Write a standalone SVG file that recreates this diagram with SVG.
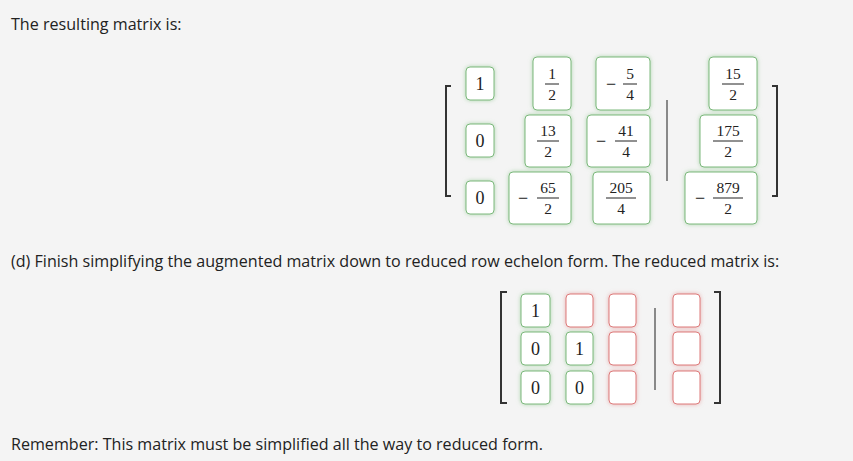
<svg xmlns="http://www.w3.org/2000/svg" width="853" height="461" viewBox="0 0 853 461">
<defs>
<filter id="gg" x="-30%" y="-30%" width="160%" height="160%"><feDropShadow dx="0" dy="0" stdDeviation="2" flood-color="#7cc07c" flood-opacity="0.6"/></filter>
<filter id="rg" x="-30%" y="-30%" width="160%" height="160%"><feDropShadow dx="0" dy="0" stdDeviation="2" flood-color="#e08080" flood-opacity="0.6"/></filter>
</defs>
<style>
.t{font-family:"Open Sans","Liberation Sans",sans-serif;font-size:16.1px;fill:#222}
.g{fill:#fff;stroke:#7cb87c;stroke-width:1;filter:url(#gg)}
.r{fill:#fff;stroke:#dd7b7b;stroke-width:1;filter:url(#rg)}
.m{font-family:"Liberation Serif",serif;font-size:18px;fill:#222;text-anchor:middle}
.s{font-family:"Liberation Serif",serif;font-size:15.5px;fill:#222;text-anchor:middle}
.fb{stroke:#222;stroke-width:1}
.br{fill:none;stroke:#333;stroke-width:2}
.dv{stroke:#666;stroke-width:1.5}
</style>
<rect width="853" height="461" fill="#f4f4f4"/>
<text class="t" x="11" y="30">The resulting matrix is:</text>
<text class="t" x="11" y="267">(d) Finish simplifying the augmented matrix down to reduced row echelon form. The reduced matrix is:</text>
<text class="t" x="11" y="450">Remember: This matrix must be simplified all the way to reduced form.</text>
<g id="matrix1">
<path class="br" d="M451,86 H446 V196 H451"/>
<path class="br" d="M772,86 H777 V196 H772"/>
<line class="dv" x1="667" y1="100" x2="667" y2="181"/>
<g id="m1r1c1"><rect class="g" x="466" y="67" width="28" height="33" rx="4"/><text class="m" x="480" y="90">1</text></g>
<g id="m1r1c2"><rect class="g" x="533" y="57" width="38" height="53" rx="4"/><text class="s" x="552" y="79">1</text><line class="fb" x1="545" y1="84" x2="559" y2="84"/><text class="s" x="552" y="100">2</text></g>
<g id="m1r1c3"><rect class="g" x="596" y="57" width="54" height="53" rx="4"/><text class="m" x="611" y="90">−</text><text class="s" x="630" y="79">5</text><line class="fb" x1="623" y1="84" x2="637" y2="84"/><text class="s" x="630" y="100">4</text></g>
<g id="m1r1c4"><rect class="g" x="709" y="57" width="48" height="53" rx="4"/><text class="s" x="733" y="79">15</text><line class="fb" x1="722" y1="84" x2="744" y2="84"/><text class="s" x="733" y="100">2</text></g>
<g id="m1r2c1"><rect class="g" x="466" y="124" width="28" height="33" rx="4"/><text class="m" x="480" y="147">0</text></g>
<g id="m1r2c2"><rect class="g" x="525" y="115" width="46" height="52" rx="4"/><text class="s" x="548" y="136">13</text><line class="fb" x1="537" y1="141" x2="559" y2="141"/><text class="s" x="548" y="157">2</text></g>
<g id="m1r2c3"><rect class="g" x="587" y="115" width="63" height="52" rx="4"/><text class="m" x="601" y="147">−</text><text class="s" x="626" y="136">41</text><line class="fb" x1="615" y1="141" x2="637" y2="141"/><text class="s" x="626" y="157">4</text></g>
<g id="m1r2c4"><rect class="g" x="700" y="115" width="57" height="52" rx="4"/><text class="s" x="728" y="136">175</text><line class="fb" x1="713" y1="141" x2="743" y2="141"/><text class="s" x="728" y="157">2</text></g>
<g id="m1r3c1"><rect class="g" x="466" y="181" width="28" height="33" rx="4"/><text class="m" x="480" y="204">0</text></g>
<g id="m1r3c2"><rect class="g" x="509" y="172" width="62" height="52" rx="4"/><text class="m" x="523" y="204">−</text><text class="s" x="548" y="193">65</text><line class="fb" x1="537" y1="198" x2="559" y2="198"/><text class="s" x="548" y="214">2</text></g>
<g id="m1r3c3"><rect class="g" x="593" y="172" width="57" height="52" rx="4"/><text class="s" x="621" y="193">205</text><line class="fb" x1="606" y1="198" x2="636" y2="198"/><text class="s" x="621" y="214">4</text></g>
<g id="m1r3c4"><rect class="g" x="685" y="172" width="72" height="52" rx="4"/><text class="m" x="700" y="204">−</text><text class="s" x="728" y="193">879</text><line class="fb" x1="713" y1="198" x2="743" y2="198"/><text class="s" x="728" y="214">2</text></g>
</g>
<g id="matrix2">
<path class="br" d="M507,292 H501 V403 H507"/>
<path class="br" d="M714,292 H720 V403 H714"/>
<line class="dv" x1="655" y1="308" x2="655" y2="390"/>
<g id="m2r1c1"><rect class="g" x="521" y="294" width="29" height="33" rx="4"/><text class="m" x="535.5" y="317">1</text></g>
<g id="m2r1c2"><rect class="r" x="566" y="294" width="27" height="33" rx="4"/></g>
<g id="m2r1c3"><rect class="r" x="609" y="294" width="27" height="33" rx="4"/></g>
<g id="m2r1c4"><rect class="r" x="673" y="294" width="27" height="33" rx="4"/></g>
<g id="m2r2c1"><rect class="g" x="521" y="332" width="29" height="33" rx="4"/><text class="m" x="535.5" y="355">0</text></g>
<g id="m2r2c2"><rect class="g" x="566" y="332" width="27" height="33" rx="4"/><text class="m" x="579.5" y="355">1</text></g>
<g id="m2r2c3"><rect class="r" x="609" y="332" width="27" height="33" rx="4"/></g>
<g id="m2r2c4"><rect class="r" x="673" y="332" width="27" height="33" rx="4"/></g>
<g id="m2r3c1"><rect class="g" x="521" y="371" width="29" height="33" rx="4"/><text class="m" x="535.5" y="394">0</text></g>
<g id="m2r3c2"><rect class="g" x="566" y="371" width="27" height="33" rx="4"/><text class="m" x="579.5" y="394">0</text></g>
<g id="m2r3c3"><rect class="r" x="609" y="371" width="27" height="33" rx="4"/></g>
<g id="m2r3c4"><rect class="r" x="673" y="371" width="27" height="33" rx="4"/></g>
</g>
<g id="connectors"/>
</svg>
